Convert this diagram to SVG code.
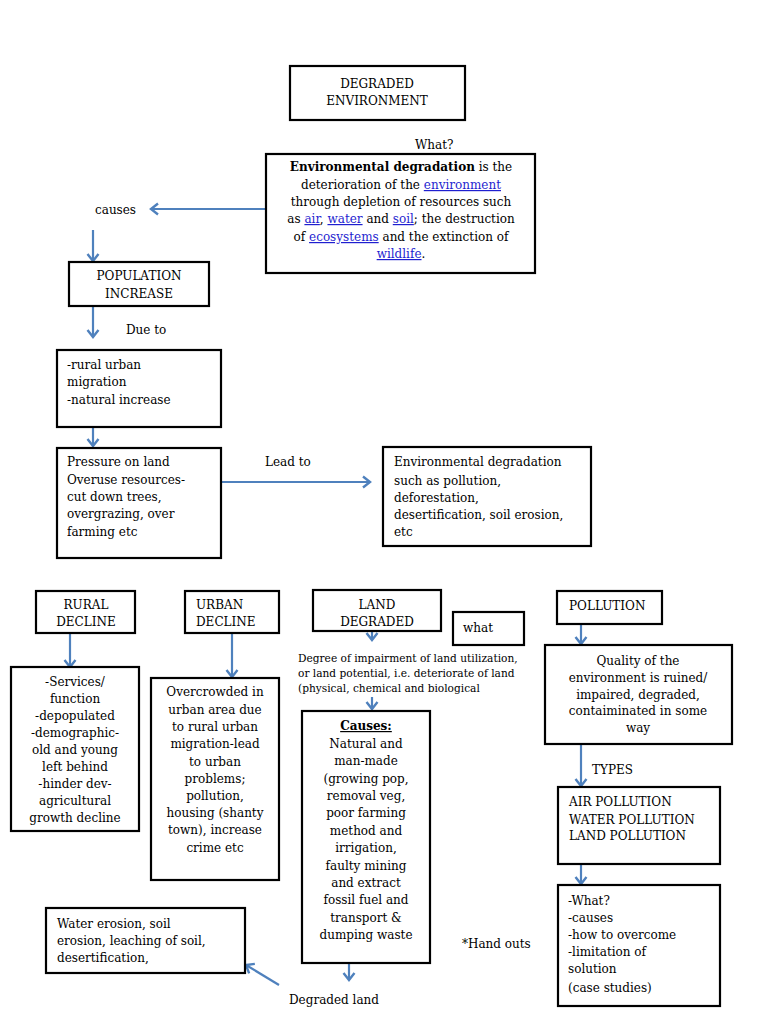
<svg xmlns="http://www.w3.org/2000/svg" width="768" height="1024" viewBox="0 0 768 1024">
<style>
.box{fill:#fff;stroke:#000;stroke-width:2.2}
text{font-family:"DejaVu Serif","Liberation Serif",serif;font-size:12px;fill:#000}
.c{text-anchor:middle}
.b{font-weight:bold}
.l{fill:#1f1fd0;text-decoration:underline}
.u{text-decoration:underline}
.s{font-size:10.6px}
.ar{fill:none;stroke:#4f81bd;stroke-width:2.2;marker-end:url(#ah)}
</style>
<defs>
<marker id="ah" markerUnits="userSpaceOnUse" markerWidth="14" markerHeight="14" refX="10" refY="7" orient="auto">
<polyline points="3,1.5 10,7 3,12.5" fill="none" stroke="#4f81bd" stroke-width="2.4"/>
</marker>
</defs>
<rect width="768" height="1024" fill="#fff"/>

<g id="connectors">
<path class="ar" d="M266,209 H151"/>
<path class="ar" d="M93,230 V261"/>
<path class="ar" d="M93,306 V337"/>
<path class="ar" d="M93,428 V446"/>
<path class="ar" d="M220,482 H370"/>
<path class="ar" d="M70,633 V667"/>
<path class="ar" d="M232,633 V677"/>
<path class="ar" d="M372,631 V640"/>
<path class="ar" d="M372,697 V709"/>
<path class="ar" d="M349,963 V980"/>
<path class="ar" d="M279,985 L246,965"/>
<path class="ar" d="M581,624 V644"/>
<path class="ar" d="M581,744 V786"/>
<path class="ar" d="M581,864 V884"/>
</g>

<g id="degraded-environment">
<rect class="box" x="290" y="66" width="175" height="54"/>
<text class="c" x="377" y="88">DEGRADED</text>
<text class="c" x="377" y="105">ENVIRONMENT</text>
</g>

<g id="what-label"><text x="415" y="149">What?</text></g>

<g id="definition">
<rect class="box" x="266" y="154" width="269" height="119"/>
<text class="c" x="401" y="171"><tspan class="b">Environmental degradation</tspan> is the</text>
<text class="c" x="401" y="189">deterioration of the <tspan class="l">environment</tspan></text>
<text class="c" x="401" y="206">through depletion of resources such</text>
<text class="c" x="401" y="223">as <tspan class="l">air</tspan>, <tspan class="l">water</tspan> and <tspan class="l">soil</tspan>; the destruction</text>
<text class="c" x="401" y="241">of <tspan class="l">ecosystems</tspan> and the extinction of</text>
<text class="c" x="401" y="258"><tspan class="l">wildlife</tspan>.</text>
</g>

<g id="causes-label"><text x="95" y="214">causes</text></g>

<g id="population-increase">
<rect class="box" x="69" y="262" width="140" height="44"/>
<text class="c" x="139" y="280">POPULATION</text>
<text class="c" x="139" y="298">INCREASE</text>
</g>

<g id="due-to-label"><text x="126" y="334">Due to</text></g>

<g id="reasons">
<rect class="box" x="57" y="350" width="164" height="77"/>
<text x="67" y="369">-rural urban</text>
<text x="67" y="386">migration</text>
<text x="67" y="404">-natural increase</text>
</g>

<g id="pressure">
<rect class="box" x="57" y="448" width="164" height="110"/>
<text x="67" y="466">Pressure on land</text>
<text x="67" y="484">Overuse resources-</text>
<text x="67" y="501">cut down trees,</text>
<text x="67" y="518">overgrazing, over</text>
<text x="67" y="536">farming etc</text>
</g>

<g id="lead-to-label"><text x="265" y="466">Lead to</text></g>

<g id="env-degradation">
<rect class="box" x="383" y="447" width="208" height="99"/>
<text x="394" y="466">Environmental degradation</text>
<text x="394" y="485">such as pollution,</text>
<text x="394" y="502">deforestation,</text>
<text x="394" y="519">desertification, soil erosion,</text>
<text x="394" y="536">etc</text>
</g>

<g id="rural-decline">
<rect class="box" x="36" y="591" width="99" height="42"/>
<text class="c" x="86" y="609">RURAL</text>
<text class="c" x="86" y="626">DECLINE</text>
</g>

<g id="rural-details">
<rect class="box" x="11" y="667" width="128" height="164"/>
<text class="c" x="75" y="686">-Services/</text>
<text class="c" x="75" y="703">function</text>
<text class="c" x="75" y="720">-depopulated</text>
<text class="c" x="75" y="737">-demographic-</text>
<text class="c" x="75" y="754">old and young</text>
<text class="c" x="75" y="771">left behind</text>
<text class="c" x="75" y="788">-hinder dev-</text>
<text class="c" x="75" y="805">agricultural</text>
<text class="c" x="75" y="822">growth decline</text>
</g>

<g id="urban-decline">
<rect class="box" x="185" y="591" width="94" height="42"/>
<text x="196" y="609">URBAN</text>
<text x="196" y="626">DECLINE</text>
</g>

<g id="urban-details">
<rect class="box" x="151" y="678" width="128" height="202"/>
<text class="c" x="215" y="696">Overcrowded in</text>
<text class="c" x="215" y="714">urban area due</text>
<text class="c" x="215" y="731">to rural urban</text>
<text class="c" x="215" y="748">migration-lead</text>
<text class="c" x="215" y="766">to urban</text>
<text class="c" x="215" y="783">problems;</text>
<text class="c" x="215" y="800">pollution,</text>
<text class="c" x="215" y="817">housing (shanty</text>
<text class="c" x="215" y="834">town), increase</text>
<text class="c" x="215" y="852">crime etc</text>
</g>

<g id="land-degraded">
<rect class="box" x="313" y="590" width="128" height="41"/>
<text class="c" x="377" y="609">LAND</text>
<text class="c" x="377" y="626">DEGRADED</text>
</g>

<g id="what-box">
<rect class="box" x="453" y="612" width="71" height="33"/>
<text x="463" y="632">what</text>
</g>

<g id="land-definition">
<text class="s" x="298" y="662">Degree of impairment of land utilization,</text>
<text class="s" x="298" y="677">or land potential, i.e. deteriorate of land</text>
<text class="s" x="298" y="692">(physical, chemical and biological</text>
</g>

<g id="land-causes">
<rect class="box" x="302" y="711" width="128" height="252"/>
<text class="c b u" x="366" y="730">Causes:</text>
<text class="c" x="366" y="748">Natural and</text>
<text class="c" x="366" y="765">man-made</text>
<text class="c" x="366" y="783">(growing pop,</text>
<text class="c" x="366" y="800">removal veg,</text>
<text class="c" x="366" y="817">poor farming</text>
<text class="c" x="366" y="835">method and</text>
<text class="c" x="366" y="852">irrigation,</text>
<text class="c" x="366" y="870">faulty mining</text>
<text class="c" x="366" y="887">and extract</text>
<text class="c" x="366" y="904">fossil fuel and</text>
<text class="c" x="366" y="922">transport &amp;</text>
<text class="c" x="366" y="939">dumping waste</text>
</g>

<g id="degraded-land-label"><text x="289" y="1004">Degraded land</text></g>

<g id="erosion">
<rect class="box" x="46" y="908" width="199" height="65"/>
<text x="57" y="928">Water erosion, soil</text>
<text x="57" y="945">erosion, leaching of soil,</text>
<text x="57" y="962">desertification,</text>
</g>

<g id="handouts-label"><text x="462" y="948">*Hand outs</text></g>

<g id="pollution">
<rect class="box" x="557" y="591" width="105" height="33"/>
<text x="569" y="610">POLLUTION</text>
</g>

<g id="pollution-definition">
<rect class="box" x="545" y="645" width="187" height="99"/>
<text class="c" x="638" y="665">Quality of the</text>
<text class="c" x="638" y="682">environment is ruined/</text>
<text class="c" x="638" y="699">impaired, degraded,</text>
<text class="c" x="638" y="715">contaiminated in some</text>
<text class="c" x="638" y="732">way</text>
</g>

<g id="types-label"><text x="592" y="774">TYPES</text></g>

<g id="pollution-types">
<rect class="box" x="558" y="787" width="162" height="77"/>
<text x="569" y="806">AIR POLLUTION</text>
<text x="569" y="824">WATER POLLUTION</text>
<text x="569" y="840">LAND POLLUTION</text>
</g>

<g id="study-points">
<rect class="box" x="558" y="885" width="162" height="121"/>
<text x="568" y="905">-What?</text>
<text x="568" y="922">-causes</text>
<text x="568" y="939">-how to overcome</text>
<text x="568" y="956">-limitation of</text>
<text x="568" y="973">solution</text>
<text x="568" y="992">(case studies)</text>
</g>
</svg>
